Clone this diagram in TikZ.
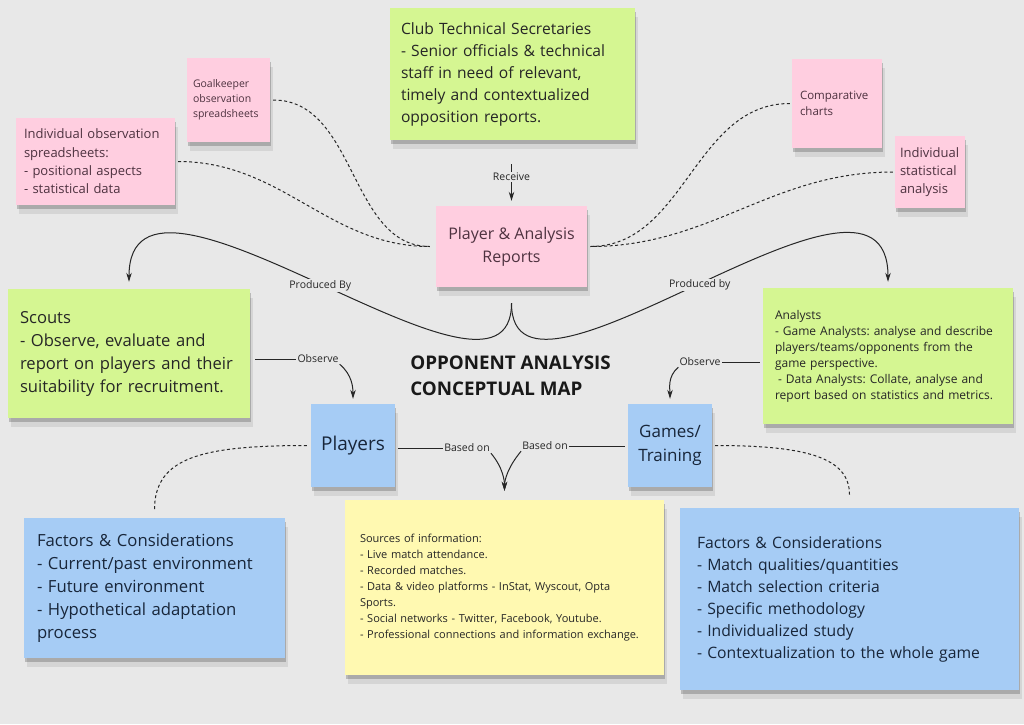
\documentclass[tikz,border=0pt]{standalone}
\usepackage{fontspec}
\setmainfont{Open Sans}
\usepackage{tikz}
\usetikzlibrary{shapes.geometric, arrows, arrows.meta, shadows}
\definecolor{board}{RGB}{232,232,232}
\definecolor{notepink}{RGB}{255,206,224}
\definecolor{notegreen}{RGB}{213,246,146}
\definecolor{noteblue}{RGB}{166,204,245}
\definecolor{noteyellow}{RGB}{255,249,177}
\definecolor{ink}{RGB}{38,38,38}
\definecolor{pinkink}{RGB}{78,50,64}
\definecolor{blueink}{RGB}{24,38,58}
\newcommand{\notesize}[2]{\fontsize{#1}{#2}\selectfont}
\tikzstyle{note} = [rectangle, inner sep=0pt, align=left, general shadow={fill=black, opacity=0.2, shadow yshift=-4pt, shadow xshift=1pt}, general shadow={fill=black, opacity=0.08, shadow yshift=-9pt, shadow xshift=3pt}]
\tikzstyle{pinknote} = [note, fill=notepink, text=pinkink]
\tikzstyle{greennote} = [note, fill=notegreen, text=ink]
\tikzstyle{bluenote} = [note, fill=noteblue, text=blueink]
\tikzstyle{yellownote} = [note, fill=noteyellow, text=ink]
\tikzstyle{lbl} = [fill=board, inner sep=1pt, text=ink, font=\notesize{10.5}{12}]
\tikzstyle{link} = [line width=1pt, draw=ink]
\tikzstyle{arrow} = [link, ->, >={Stealth[length=9pt, width=5.5pt]}]
\tikzstyle{dashlink} = [line width=1pt, draw=ink, dash pattern=on 3pt off 2.5pt]
\hyphenpenalty=10000
\exhyphenpenalty=10000
\frenchspacing

\begin{document}
\begin{tikzpicture}[x=1pt, y=1pt]
	\fill[board] (0,0) rectangle (1024,-724);
	\useasboundingbox (0,0) rectangle (1024,-724);
	%----------------------------------------------------%
	\node(club) [greennote, minimum width=245pt, minimum height=132pt, text width=223pt, font=\notesize{15.6}{22}] at (512.5,-74) {Club Technical Secretaries\\- Senior officials \& technical\\staff in need of relevant,\\timely and contextualized\\opposition reports.};
	\node(reports) [pinknote, minimum width=151pt, minimum height=81pt, align=center, font=\notesize{16}{23}] at (511.5,-246.5) {Player \& Analysis\\Reports};
	\node(recv) [lbl] at (511.5,-177) {Receive};
	
	\draw[link, shorten <=24pt] (club.south -| recv) -- (recv);
	\draw[arrow, shorten >=5pt] (recv) -- (reports.north);
	
	%----------------------------------------------------%
	\node(keeper) [pinknote, minimum width=83pt, minimum height=84pt, text width=71pt, font=\notesize{10.5}{15}] at (228.5,-100) {Goalkeeper\\observation\\spreadsheets};
	\node(indobs) [pinknote, minimum width=159pt, minimum height=87pt, text width=143pt, font=\notesize{13}{18.3}] at (95.5,-161.5) {Individual observation\\spreadsheets:\\- positional aspects\\- statistical data};
	\node(charts) [pinknote, minimum width=90pt, minimum height=89pt, text width=74pt, font=\notesize{11.5}{16}] at (837,-103.5) {Comparative\\charts};
	\node(indstat) [pinknote, minimum width=70pt, minimum height=72pt, text width=60pt, font=\notesize{13}{17.8}] at (930,-172) {Individual\\statistical\\analysis};
	
	\draw[dashlink, shorten <=3pt, shorten >=6pt] (keeper.east) to[out=0, in=180] (reports.west);
	\draw[dashlink, shorten <=3pt, shorten >=6pt] (indobs.east) to[out=0, in=180] (reports.west);
	\draw[dashlink, shorten <=2pt, shorten >=3pt] (charts.west) to[out=180, in=0] (reports.east);
	\draw[dashlink, shorten <=2pt, shorten >=3pt] (indstat.west) to[out=180, in=0] (reports.east);
	
	%----------------------------------------------------%
	\node(scouts) [greennote, minimum width=242pt, minimum height=129pt, text width=218pt, font=\notesize{16.6}{23}] at (129,-353.5) {Scouts\\- Observe, evaluate and\\report on players and their\\suitability for recruitment.};
	\node(analysts) [greennote, minimum width=250pt, minimum height=136pt, text width=226pt, font=\notesize{12}{16}] at (888,-356) {Analysts\\- Game Analysts: analyse and describe\\players/teams/opponents from the\\game perspective.\\\hspace*{0.25em}- Data Analysts: Collate, analyse and\\report based on statistics and metrics.};
	\node(title) [font=\bfseries\notesize{18.8}{26}, align=left, text=black!90, inner sep=0pt] at (510.5,-376) {OPPONENT ANALYSIS\\CONCEPTUAL MAP};
	
	\coordinate(cusp) at ([yshift=-16pt]reports.south);
	\draw[arrow, shorten >=7pt] (cusp) .. controls +(0,-140) and +(0,168) .. (scouts.north) node(prodL) [lbl, pos=0.5] {Produced By};
	\draw[arrow, shorten >=6pt] (cusp) .. controls +(0,-140) and +(0,168) .. (analysts.north) node(prodR) [lbl, pos=0.5] {Produced by};
	
	%----------------------------------------------------%
	\node(players) [bluenote, minimum width=84pt, minimum height=83pt, align=center, font=\notesize{19}{24}] at (353,-445.5) {Players};
	\node(games) [bluenote, minimum width=84pt, minimum height=83pt, align=center, font=\notesize{17}{24}] at (670,-445.5) {Games/\\Training};
	\node(obsL) [lbl] at (318,-359) {Observe};
	\node(obsR) [lbl] at (700,-362) {Observe};
	
	\draw[link, shorten <=5pt] (scouts.east |- obsL) -- (obsL);
	\draw[arrow, shorten >=5pt] (obsL.south east) to[out=-40, in=90] (players.north);
	\draw[link, shorten <=3pt] (analysts.west |- obsR) -- (obsR);
	\draw[arrow, shorten >=5pt] (obsR.south west) to[out=-140, in=90] (games.north);
	
	%----------------------------------------------------%
	\node(factL) [bluenote, minimum width=261pt, minimum height=140pt, text width=235pt, font=\notesize{16.7}{23}] at (154.5,-588) {Factors \& Considerations\\- Current/past environment\\- Future environment\\- Hypothetical adaptation\\process};
	\node(sources) [yellownote, minimum width=319pt, minimum height=175pt, text width=289pt, font=\notesize{11}{16}] at (504.5,-587.5) {Sources of information:\\- Live match attendance.\\- Recorded matches.\\- Data \& video platforms - InStat, Wyscout, Opta\\Sports.\\- Social networks - Twitter, Facebook, Youtube.\\- Professional connections and information exchange.};
	\node(factR) [bluenote, minimum width=339pt, minimum height=182pt, text width=305pt, font=\notesize{15.7}{22}] at (849.5,-599) {Factors \& Considerations\\- Match qualities/quantities\\- Match selection criteria\\- Specific methodology\\- Individualized study\\- Contextualization to the whole game};
	\node(basedL) [lbl] at (467,-448) {Based on};
	\node(basedR) [lbl] at (545,-446) {Based on};
	
	\draw[link, shorten <=3pt] (players.east |- basedL) -- (basedL);
	\draw[arrow, shorten >=9pt] (basedL.south east) to[out=-50, in=90] (sources.north);
	\draw[link, shorten <=3pt] (games.west |- basedR) -- (basedR);
	\draw[arrow, shorten >=9pt] (basedR.south west) to[out=-130, in=90] (sources.north);
	\draw[dashlink, shorten <=4pt, shorten >=8pt] (players.west) .. controls +(-110,0) and +(0,60) .. (factL.north);
	\draw[dashlink, shorten <=3pt, shorten >=13pt] (games.east) .. controls +(95,0) and +(0,50) .. (factR.north);
\end{tikzpicture}
\end{document}
